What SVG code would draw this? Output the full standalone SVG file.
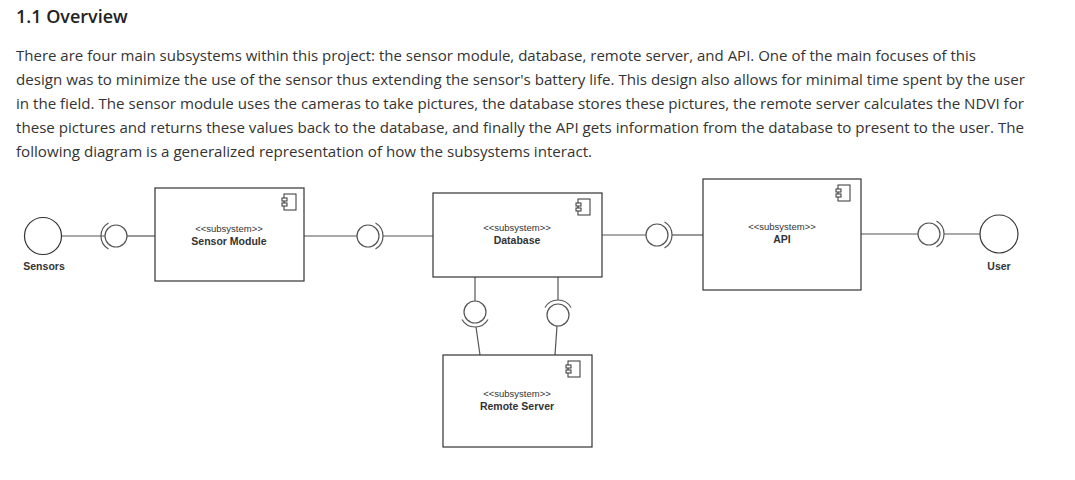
<svg xmlns="http://www.w3.org/2000/svg" width="1075" height="480" viewBox="0 0 1075 480">
<style>
.h{font-family:"Open Sans","Noto Sans",sans-serif;font-size:18px;font-weight:600;fill:#222}
.p{font-family:"Open Sans","Noto Sans",sans-serif;font-size:14px;fill:#333}
.st{font-family:"Liberation Sans",Arial,sans-serif;font-size:9.5px;fill:#333;text-anchor:middle}
.nm{font-family:"Liberation Sans",Arial,sans-serif;font-size:10.5px;font-weight:bold;fill:#333;text-anchor:middle}
.box{fill:#fff;stroke:#333;stroke-width:1.2}
.ln{fill:none;stroke:#555;stroke-width:1.2}
.ic{fill:#fff;stroke:#333;stroke-width:1}
</style>
<defs>
<g id="icon"><rect class="ic" x="2" y="0" width="12" height="16"/><rect class="ic" x="0" y="4" width="5" height="3"/><rect class="ic" x="0" y="9" width="5" height="3"/></g>
</defs>
<rect width="1075" height="480" fill="#fff"/>
<text class="h" x="16" y="23">1.1 Overview</text>
<text class="p" x="16" y="61" textLength="960" lengthAdjust="spacingAndGlyphs">There are four main subsystems within this project: the sensor module, database, remote server, and API. One of the main focuses of this</text>
<text class="p" x="16" y="85" textLength="1009" lengthAdjust="spacingAndGlyphs">design was to minimize the use of the sensor thus extending the sensor's battery life. This design also allows for minimal time spent by the user</text>
<text class="p" x="16" y="109" textLength="1008" lengthAdjust="spacingAndGlyphs">in the field. The sensor module uses the cameras to take pictures, the database stores these pictures, the remote server calculates the NDVI for</text>
<text class="p" x="16" y="133" textLength="1008" lengthAdjust="spacingAndGlyphs">these pictures and returns these values back to the database, and finally the API gets information from the database to present to the user. The</text>
<text class="p" x="16" y="157" textLength="576" lengthAdjust="spacingAndGlyphs">following diagram is a generalized representation of how the subsystems interact.</text>

<g id="connectors">
<line class="ln" x1="61" y1="236" x2="105" y2="236"/>
<path class="ln" d="M108.5,223 A15,15 0 0 0 108.5,249"/>
<circle class="ln" cx="116" cy="236" r="11"/>
<line class="ln" x1="127" y1="236" x2="155" y2="236"/>
<line class="ln" x1="304" y1="236" x2="357" y2="236"/>
<circle class="ln" cx="368" cy="236" r="11"/>
<path class="ln" d="M375.5,223 A15,15 0 0 1 375.5,249"/>
<line class="ln" x1="383" y1="236" x2="433" y2="236"/>
<line class="ln" x1="602" y1="235" x2="646" y2="235"/>
<circle class="ln" cx="657" cy="235" r="11"/>
<path class="ln" d="M664.5,222 A15,15 0 0 1 664.5,248"/>
<line class="ln" x1="672" y1="235" x2="703" y2="235"/>
<line class="ln" x1="861" y1="234" x2="918" y2="234"/>
<circle class="ln" cx="929" cy="234" r="11"/>
<path class="ln" d="M936.5,221 A15,15 0 0 1 936.5,247"/>
<line class="ln" x1="944" y1="234" x2="980" y2="234"/>
<line class="ln" x1="475" y1="277" x2="475" y2="301"/>
<circle class="ln" cx="475" cy="312" r="11"/>
<path class="ln" d="M462,319.5 A15,15 0 0 0 488,319.5"/>
<line class="ln" x1="476" y1="327" x2="480" y2="355"/>
<line class="ln" x1="558" y1="277" x2="558" y2="300"/>
<circle class="ln" cx="558" cy="315" r="11"/>
<path class="ln" d="M545,307.5 A15,15 0 0 1 571,307.5"/>
<line class="ln" x1="557" y1="326" x2="555" y2="355"/>
</g>

<g id="sensors"><circle class="box" cx="43" cy="236" r="18.5"/><text class="nm" x="44" y="270">Sensors</text></g>
<g id="user"><circle class="box" cx="999" cy="234" r="19"/><text class="nm" x="999" y="270">User</text></g>
<g id="sensor-module"><rect class="box" x="155" y="188" width="149" height="93"/><use href="#icon" x="282" y="194"/><text class="st" x="229" y="232">&lt;&lt;subsystem&gt;&gt;</text><text class="nm" x="229" y="245">Sensor Module</text></g>
<g id="database"><rect class="box" x="433" y="193" width="169" height="84"/><use href="#icon" x="576" y="199"/><text class="st" x="517" y="231">&lt;&lt;subsystem&gt;&gt;</text><text class="nm" x="517" y="244">Database</text></g>
<g id="api"><rect class="box" x="703" y="179" width="158" height="111"/><use href="#icon" x="836" y="185"/><text class="st" x="782" y="230">&lt;&lt;subsystem&gt;&gt;</text><text class="nm" x="782" y="243">API</text></g>
<g id="remote-server"><rect class="box" x="443" y="355" width="149" height="92"/><use href="#icon" x="566" y="361"/><text class="st" x="517" y="397">&lt;&lt;subsystem&gt;&gt;</text><text class="nm" x="517" y="410">Remote Server</text></g>
</svg>
